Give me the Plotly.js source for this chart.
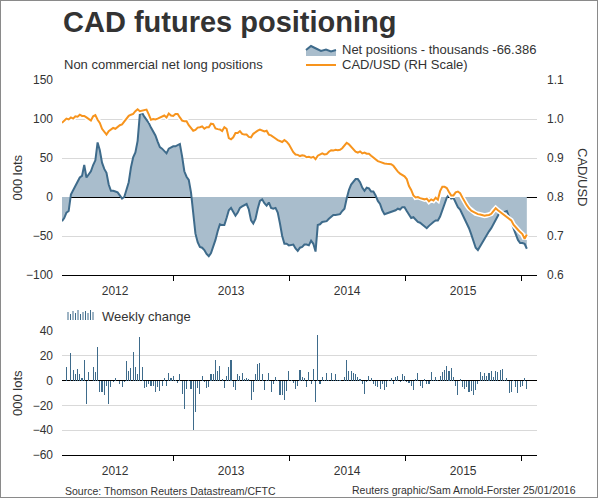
<!DOCTYPE html>
<html>
<head>
<meta charset="utf-8">
<script src="https://cdn.plot.ly/plotly-3.0.1.min.js"></script>
<style>
  html, body { margin: 0; padding: 0; background: #fff; }
  #frame { width: 598px; height: 498px; border: 1px solid #8a8a8a; box-sizing: border-box; }
  #chart { width: 596px; height: 496px; }
</style>
</head>
<body>
<div id="frame"><div id="chart"></div></div>
<script>
// Weekly CFTC report dates start here (Tuesdays)
const START_DATE = '2012-01-17';

// Non-commercial net long CAD futures positions, thousand contracts
const NET_POSITIONS = [
  -31, -27, -20, -18, 3, 9, 13, 20, 25, 27,
  41, 25, 29, 33, 41, 47, 70, 60, 44, 36,
  31, 16, 8, 8, 7, 6, 2, -2, 0, 10,
  19, 38, 51, 57, 72, 106, 108, 103, 99, 95,
  89, 84, 79, 71, 64, 62, 59, 56, 62, 64,
  65, 65, 66, 68, 52, 33, 26, 22, 6, -25,
  -47, -58, -64, -65, -68, -73, -76, -72, -64, -55,
  -44, -35, -36, -36, -27, -17, -14, -20, -24, -20,
  -14, -12, -10, -9, -16, -30, -34, -28, -15, -5,
  -3, -8, -11, -7, -14, -15, -14, -20, -34, -50,
  -60, -60, -62, -61, -61, -66, -69, -65, -64, -61,
  -61, -62, -56, -60, -70, -36, -35, -32, -31, -31,
  -28, -25, -23, -23, -22, -22, -18, -15, -2, 9,
  16, 20, 23, 23, 19, 12, 8, 12, 11, 7,
  7, 2, -5, -9, -17, -22, -21, -21, -20, -18,
  -17, -15, -16, -13, -13, -18, -22, -27, -26, -29,
  -32, -33, -35, -37, -40, -37, -34, -32, -30, -30,
  -25, -16, -8, -1, 3, -2, -1, -8, -13, -16,
  -22, -28, -33, -40, -48, -57, -65, -68, -63, -58,
  -53, -48, -44, -40, -35, -30, -24, -18, -21, -19,
  -18, -25, -32, -40, -46, -55, -59, -59, -60, -66.386
];

// CAD/USD exchange rate, right-hand scale
const CAD_USD = [
  0.990, 0.995, 1.001, 0.999, 1.004, 1.001, 1.007, 1.006, 1.011, 1.008,
  1.008, 1.004, 0.999, 0.996, 1.007, 1.010, 0.998, 0.990, 0.975, 0.966,
  0.960, 0.969, 0.972, 0.977, 0.975, 0.980, 0.984, 0.986, 0.994, 1.003,
  1.008, 1.011, 1.013, 1.020, 1.025, 1.020, 1.022, 1.022, 1.024, 1.012,
  0.998, 1.000, 0.999, 1.001, 1.004, 1.007, 1.009, 1.004, 1.014, 1.009,
  1.008, 1.013, 1.013, 1.004, 0.996, 0.994, 0.994, 0.984, 0.976, 0.970,
  0.972, 0.978, 0.979, 0.981, 0.975, 0.979, 0.979, 0.988, 0.987, 0.976,
  0.974, 0.973, 0.969, 0.979, 0.975, 0.951, 0.948, 0.953, 0.964, 0.964,
  0.969, 0.962, 0.960, 0.960, 0.954, 0.953, 0.962, 0.967, 0.970, 0.973,
  0.970, 0.968, 0.970, 0.960, 0.958, 0.953, 0.950, 0.946, 0.944, 0.941,
  0.946, 0.942, 0.935, 0.925, 0.915, 0.909, 0.908, 0.905, 0.907, 0.906,
  0.902, 0.903, 0.901, 0.903, 0.897, 0.906, 0.909, 0.912, 0.909, 0.910,
  0.916, 0.920, 0.919, 0.921, 0.920, 0.921, 0.925, 0.933, 0.939, 0.935,
  0.928, 0.922, 0.916, 0.914, 0.917, 0.912, 0.914, 0.911, 0.911, 0.906,
  0.901, 0.897, 0.892, 0.890, 0.887, 0.886, 0.885, 0.885, 0.884, 0.880,
  0.872, 0.865, 0.860, 0.857, 0.853, 0.846, 0.828, 0.818, 0.804, 0.799,
  0.800, 0.797, 0.796, 0.794, 0.796, 0.789, 0.794, 0.791, 0.798, 0.793,
  0.815, 0.826, 0.826, 0.823, 0.813, 0.804, 0.804, 0.812, 0.814, 0.810,
  0.799, 0.787, 0.779, 0.771, 0.765, 0.762, 0.758, 0.756, 0.755, 0.753,
  0.752, 0.753, 0.754, 0.757, 0.765, 0.771, 0.766, 0.762, 0.756, 0.752,
  0.748, 0.744, 0.740, 0.729, 0.721, 0.716, 0.710, 0.705, 0.693, 0.704
];

// Week-on-week change in net positions, thousand contracts
const WEEKLY_CHANGE = [
  null, 0, 11, 0, 22, 8.5, 5, 9, 5, 2,
  16.5, -19, 7, -0.5, 11, 7, 27, -9, -9, -12,
  -4, -19, -5, -1, 2, -0.5, -3, -5, -1, 15.5,
  8, 10, 23, 11, 5, 35, 11, -6, -5, -3,
  -4, -4, -9, -5, -8, -4, 2, -4, 6, 2,
  4, 0.5, -2, 5, -11, -23, -7, 0.5, -7, -40,
  -25, -6, -11, 4, -1, -6, -5, 5, 5, 16.5,
  8, 12, 1, -6, 4, 11, 16.5, -5, -7.5, 5,
  4, 6, 1, 2, 1, -15.5, -9, 5, 13, 14,
  5, -7.5, 0.5, 6, -9, -3, 3, 0.5, -12, -12,
  -15.5, -8, 8, 0.5, -2, -7, -4, 8.5, 3, 2,
  -5, 7, -3, 9, -17, 37, -3, 3, 0.5, 6,
  0.5, 6, 0.5, 5, 0.5, 0.5, -0.5, 3, 17, 8,
  8, 6, 5, 3, 1, -3, -11, -1, 4, 2,
  -3, -4, -5, -7, -3, -7.5, -5, 0.5, 2, -3,
  3, 4, -1, 5, 4, -1, -2, -4, -7.5, 1,
  6, -4, -6, 1, -3, -3, 7, 0.5, 3, 0.5,
  4, 7, 8.5, 12, 8, 10, 3, -4, -12, 1,
  -5, -7, -5, -9, -8, -12, -7.5, -3, 7, 4,
  6, 4, 6, 8, 3, 8, 7, 8.5, 9, 0.5,
  2, -10, -9, 0.5, -5, -10, -5, -4, 2, -6.4
];

// Most recent net position, quoted in the key
const LATEST_NET = NET_POSITIONS[NET_POSITIONS.length - 1];

// Weekly date for each observation
const DAY_MS = 86400000;
const startMs = Date.parse(START_DATE + 'T00:00:00Z');
const weeks = NET_POSITIONS.map((_, i) => new Date(startMs + i * 7 * DAY_MS).toISOString().slice(0, 10));

const FONT = '"Liberation Sans", Arial, Helvetica, sans-serif';
const TEXT = '#333333';
const BLUE = '#3e6b8b';
const BLUE_FILL = '#a9bdcc';
const ORANGE = '#f7941d';
const GRID = '#d9d9d9';

// Page geometry of the plotting area (inside the 1px frame)
const PL = 62, PR = 537, PT = 80, PB = 455;
const fx = x => (x - PL) / (PR - PL);
const fy = y => (PB - y) / (PB - PT);

const traces = [
  {
    type: 'scatter', mode: 'lines', x: weeks, y: NET_POSITIONS,
    xaxis: 'x', yaxis: 'y', fill: 'tozeroy', fillcolor: BLUE_FILL,
    line: { color: BLUE, width: 2 }, hoverinfo: 'skip'
  },
  {
    type: 'scatter', mode: 'lines', x: weeks, y: CAD_USD,
    xaxis: 'x', yaxis: 'y2', line: { color: '#ffffff', width: 5 }, hoverinfo: 'skip'
  },
  {
    type: 'scatter', mode: 'lines', x: weeks, y: CAD_USD,
    xaxis: 'x', yaxis: 'y2', line: { color: ORANGE, width: 2 }, hoverinfo: 'skip'
  },
  {
    type: 'bar', x: weeks, y: WEEKLY_CHANGE, xaxis: 'x2', yaxis: 'y3',
    width: 3.4 * DAY_MS, marker: { color: BLUE, line: { width: 0 } }, hoverinfo: 'skip'
  }
];

const dateAxis = {
  type: 'date',
  range: ['2012-01-17', '2016-02-20'],
  tick0: '2012-01-01', dtick: 'M12', tickformat: '%Y', ticklabelmode: 'period',
  ticks: 'outside', ticklen: 5, tickwidth: 1, tickcolor: '#000',
  showline: true, linecolor: '#000', linewidth: 1,
  showgrid: false, zeroline: false,
  tickfont: { family: FONT, size: 12, color: TEXT }
};

const tickFont = { family: FONT, size: 12, color: TEXT };

const ann = (text, x, y, opts = {}) => Object.assign({
  text, x: fx(x), y: fy(y), xref: 'paper', yref: 'paper',
  showarrow: false, xanchor: 'left', yanchor: 'middle', borderpad: 0,
  font: { family: FONT, size: 13, color: TEXT }
}, opts);

// Small bar glyph for the weekly-change key
const keyBars = [4, 2, 5, 3, 6, 2, 4, 5, 3, 6, 4];
let barPath = '';
keyBars.forEach((h, k) => {
  const x = 68 + k * 2.5;
  barPath += `M${fx(x)},${fy(320)} L${fx(x)},${fy(320 - 4 - h)} `;
});

const areaTop = [[306, 50], [311, 46], [316, 48.5], [321, 51], [326, 49.5], [331, 51.5], [336, 50]];
const areaPath = 'M' + areaTop.map(p => `${fx(p[0])},${fy(p[1])}`).join(' L') +
  ` L${fx(336)},${fy(56)} L${fx(306)},${fy(56)} Z`;
const areaLine = 'M' + areaTop.map(p => `${fx(p[0])},${fy(p[1])}`).join(' L');

const layout = {
  width: 596, height: 496,
  margin: { l: 61, r: 60, t: 79, b: 42, pad: 0 },
  paper_bgcolor: '#ffffff', plot_bgcolor: '#ffffff',
  font: { family: FONT, color: TEXT, size: 12 },
  showlegend: false, hovermode: false, bargap: 0,
  xaxis: Object.assign({}, dateAxis, { anchor: 'y', domain: [0, 1] }),
  xaxis2: Object.assign({}, dateAxis, { anchor: 'y3', domain: [0, 1] }),
  yaxis: {
    domain: [fy(275), 1], range: [-100, 150], tick0: 0, dtick: 50,
    showgrid: true, gridcolor: GRID, gridwidth: 1,
    zeroline: true, zerolinecolor: '#000', zerolinewidth: 1,
    showline: false, ticks: '', ticklabelstandoff: 8, tickfont: tickFont
  },
  yaxis2: {
    overlaying: 'y', side: 'right', anchor: 'x', range: [0.6, 1.1], tick0: 0.6, dtick: 0.1,
    tickformat: '.1f', showgrid: false, zeroline: false, showline: false,
    ticks: '', ticklabelstandoff: 9, tickfont: tickFont
  },
  yaxis3: {
    domain: [0, fy(331)], anchor: 'x2', range: [-60, 40], tick0: 0, dtick: 20,
    showgrid: true, gridcolor: GRID, gridwidth: 1,
    zeroline: true, zerolinecolor: '#000', zerolinewidth: 1,
    showline: false, ticks: '', ticklabelstandoff: 8, tickfont: tickFont
  },
  shapes: [
    { type: 'path', xref: 'paper', yref: 'paper', path: areaPath, fillcolor: BLUE_FILL, line: { width: 0 } },
    { type: 'path', xref: 'paper', yref: 'paper', path: areaLine, line: { color: BLUE, width: 2 } },
    { type: 'line', xref: 'paper', yref: 'paper', x0: fx(306), x1: fx(336), y0: fy(65), y1: fy(65), line: { color: ORANGE, width: 2 } },
    { type: 'path', xref: 'paper', yref: 'paper', path: barPath, line: { color: BLUE, width: 1 } }
  ],
  annotations: [
    ann('CAD futures positioning', 62, 22, { font: { family: FONT, size: 29, color: '#333333', weight: 'bold' } }),
    ann('Non commercial net long positions', 63, 65),
    ann('Net positions - thousands ' + LATEST_NET, 341, 49),
    ann('CAD/USD (RH Scale)', 341, 65),
    ann('Weekly change', 101, 316),
    ann('000 lots', 17, 177.5, { xanchor: 'center', textangle: -90 }),
    ann('000 lots', 17, 393, { xanchor: 'center', textangle: -90 }),
    ann('CAD/USD', 583, 177, { xanchor: 'center', textangle: 90 }),
    ann('Source: Thomson Reuters Datastream/CFTC', 64, 491, { font: { family: FONT, size: 10.5, color: TEXT } }),
    ann('Reuters graphic/Sam Arnold-Forster 25/01/2016', 577, 490, { xanchor: 'right', font: { family: FONT, size: 10.5, color: TEXT } })
  ]
};

Plotly.newPlot('chart', traces, layout, { staticPlot: true, displayModeBar: false });
</script>
</body>
</html>
